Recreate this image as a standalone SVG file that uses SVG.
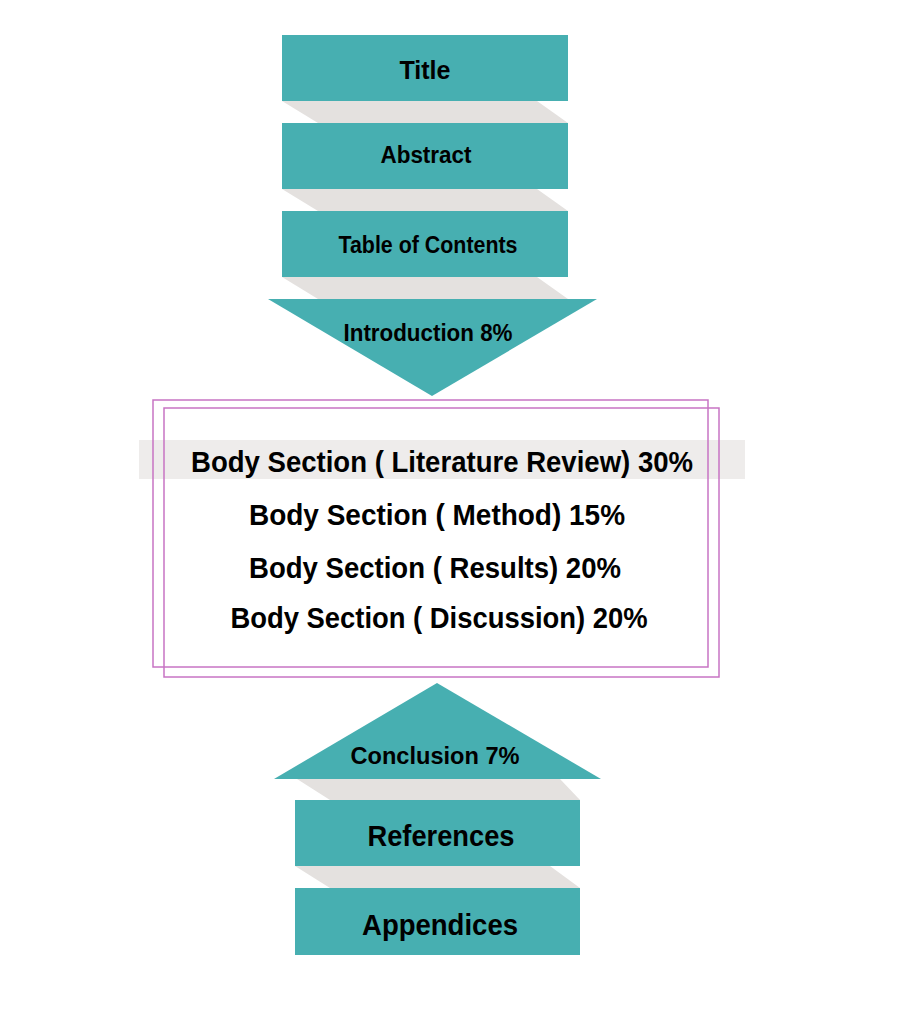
<svg xmlns="http://www.w3.org/2000/svg" width="910" height="1024" viewBox="0 0 910 1024">
<style>
.box{fill:#47afb1}
.sh{fill:#e4e1df}
.t{font-family:"Liberation Sans",Arial,sans-serif;font-weight:bold;fill:#000;text-anchor:middle}
.fr{fill:none;stroke:#c774c4;stroke-width:1.5}
</style>
<rect width="910" height="1024" fill="#fff"/>
<g id="shadows">
<polygon class="sh" points="282,101 537,101 568,123 318,123"/>
<polygon class="sh" points="282,189 537,189 568,211 318,211"/>
<polygon class="sh" points="282,277 537,277 568,299 318,299"/>
<polygon class="sh" points="297,779 560,779 580,800 330,800"/>
<polygon class="sh" points="295,866 550,866 580,888 330,888"/>
</g>
<g id="title"><rect class="box" x="282" y="35" width="286" height="66"/><text class="t" x="425" y="79" font-size="26" textLength="51" lengthAdjust="spacingAndGlyphs">Title</text></g>
<g id="abstract"><rect class="box" x="282" y="123" width="286" height="66"/><text class="t" x="426" y="163" font-size="23" textLength="91" lengthAdjust="spacingAndGlyphs">Abstract</text></g>
<g id="toc"><rect class="box" x="282" y="211" width="286" height="66"/><text class="t" x="428" y="253" font-size="23" textLength="179" lengthAdjust="spacingAndGlyphs">Table of Contents</text></g>
<g id="intro"><polygon class="box" points="268,299 597,299 432,396"/><text class="t" x="428" y="341" font-size="23" textLength="169" lengthAdjust="spacingAndGlyphs">Introduction 8%</text></g>
<g id="body">
<rect x="139" y="440" width="606" height="39" fill="#eeeceb"/>
<rect class="fr" x="153" y="400" width="555" height="267"/>
<rect class="fr" x="164" y="408" width="555" height="269"/>
<text class="t" x="442" y="472" font-size="30" textLength="502" lengthAdjust="spacingAndGlyphs">Body Section ( Literature Review) 30%</text>
<text class="t" x="437" y="525" font-size="30" textLength="376" lengthAdjust="spacingAndGlyphs">Body Section ( Method) 15%</text>
<text class="t" x="435" y="578" font-size="30" textLength="372" lengthAdjust="spacingAndGlyphs">Body Section ( Results) 20%</text>
<text class="t" x="439" y="628" font-size="30" textLength="417" lengthAdjust="spacingAndGlyphs">Body Section ( Discussion) 20%</text>
</g>
<g id="conclusion"><polygon class="box" points="274,779 601,779 437,683"/><text class="t" x="435" y="764" font-size="24" textLength="169" lengthAdjust="spacingAndGlyphs">Conclusion 7%</text></g>
<g id="references"><rect class="box" x="295" y="800" width="285" height="66"/><text class="t" x="441" y="846" font-size="29" textLength="147" lengthAdjust="spacingAndGlyphs">References</text></g>
<g id="appendices"><rect class="box" x="295" y="888" width="285" height="67"/><text class="t" x="440" y="935" font-size="29" textLength="156" lengthAdjust="spacingAndGlyphs">Appendices</text></g>
<g id="connectors"/>
</svg>
